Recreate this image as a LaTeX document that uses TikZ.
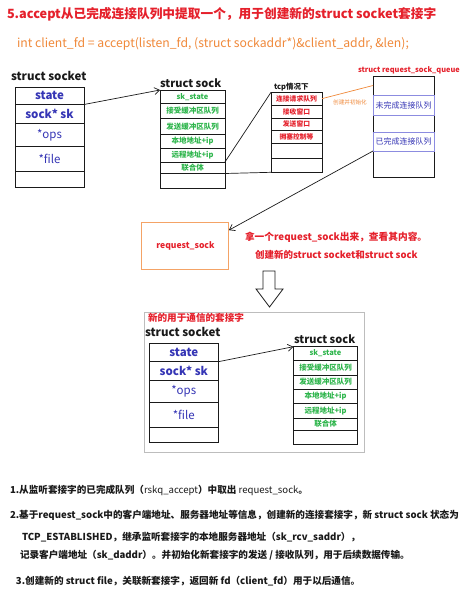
\documentclass[tikz,border=0pt]{standalone}
\usepackage{fontspec}
\setmainfont{Noto Sans CJK SC}
\usetikzlibrary{arrows.meta,calc}
\definecolor{TitleRed}{HTML}{E5202B}
\definecolor{CodeOrange}{HTML}{F0893A}
\definecolor{FieldBlue}{HTML}{3535B5}
\definecolor{FieldGreen}{HTML}{2DB54B}
\definecolor{BoxOrange}{HTML}{F4A366}
\definecolor{QueueEdge}{HTML}{8C8CE0}
\definecolor{FrameGray}{HTML}{BDBDBD}
\definecolor{Ink}{HTML}{1A1A1A}

\begin{document}
\begin{tikzpicture}[x=1pt,y=-1pt,>={Straight Barb[length=5pt,width=7pt]},
  every node/.style={inner sep=0pt,outer sep=0pt},
  cell/.style={draw=Ink,line width=0.9pt,minimum width=#1},
  sockfield/.style={text=FieldBlue,font=\fontsize{11.5}{12}\selectfont},
  skfield/.style={text=FieldGreen,font=\fontsize{7.5}{8}\selectfont\bfseries},
  tcpfield/.style={text=TitleRed,font=\fontsize{6.8}{7}\selectfont\bfseries},
  qfield/.style={text=FieldBlue,font=\fontsize{8}{9}\selectfont},
  caption/.style={anchor=west,text=Ink,font=\fontsize{11.5}{12}\selectfont\bfseries},
  note/.style={anchor=west,text=Ink,font=\fontsize{9.6}{10}\selectfont\bfseries}]
      \useasboundingbox[fill=white] (0,0) rectangle (474,596);

      % title and call
      \node[anchor=west,text=TitleRed,font=\fontsize{12.7}{13}\selectfont\bfseries] (title) at (7,14)
        {5.accept从已完成连接队列中提取一个，用于创建新的struct socket套接字};
      \node[anchor=west,text=CodeOrange,font=\fontsize{12.2}{13}\selectfont] (call) at (17,44)
        {int client\_fd = accept(listen\_fd, (struct sockaddr*)\&client\_addr, \&len);};

      % listening struct socket
      \node[caption] (oldsocklbl) at (11,76) {struct socket};
      \node[cell=69pt,minimum height=17.5pt,sockfield,font=\fontsize{11.5}{12}\selectfont\bfseries] (os1) at (49.5,95.75) {state};
      \node[cell=69pt,minimum height=19pt,sockfield,font=\fontsize{11.5}{12}\selectfont\bfseries] (os2) at (49.5,114) {sock* sk};
      \node[cell=69pt,minimum height=22.5pt,sockfield] (os3) at (49.5,134.75) {*ops};
      \node[cell=69pt,minimum height=25pt,sockfield] (os4) at (49.5,158.5) {*file};
      \node[cell=69pt,minimum height=16pt] (os5) at (49.5,179) {};

      % listening struct sock
      \node[caption,font=\fontsize{11}{12}\selectfont\bfseries] (oldsklbl) at (160,83) {struct sock};
      \node[cell=65pt,minimum height=13.5pt,skfield] (ok1) at (192.5,96.75) {sk\_state};
      \node[cell=65pt,minimum height=15pt,skfield] (ok2) at (192.5,111) {接受缓冲区队列};
      \node[cell=65pt,minimum height=15.5pt,skfield] (ok3) at (192.5,126.25) {发送缓冲区队列};
      \node[cell=65pt,minimum height=14pt,skfield] (ok4) at (192.5,141) {本地地址+ip};
      \node[cell=65pt,minimum height=14pt,skfield] (ok5) at (192.5,155) {远程地址+ip};
      \node[cell=65pt,minimum height=11.5pt,skfield] (ok6) at (192.5,167.75) {联合体};
      \node[cell=65pt,minimum height=14.5pt] (ok7) at (192.5,180.75) {};

      % tcp part of the union
      \node[anchor=west,text=Ink,font=\fontsize{7.5}{8}\selectfont\bfseries] (tcplbl) at (274,87) {tcp情况下};
      \node[cell=51pt,minimum height=12.7pt,tcpfield] (t1) at (296.5,98.65) {连接请求队列};
      \node[cell=51pt,minimum height=13pt,tcpfield] (t2) at (296.5,111.5) {接收窗口};
      \node[cell=51pt,minimum height=12pt,tcpfield] (t3) at (296.5,124) {发送窗口};
      \node[cell=51pt,minimum height=13.3pt,tcpfield] (t4) at (296.5,136.65) {拥塞控制等};
      \node[cell=51pt,minimum height=15pt] (t5) at (296.5,150.8) {};
      \node[cell=51pt,minimum height=14pt] (t6) at (296.5,165.3) {};

      % request_sock_queue
      \node[anchor=west,text=TitleRed,font=\fontsize{7.4}{8}\selectfont\bfseries] (queuelbl) at (358,70) {struct request\_sock\_queue};
      \node[cell=61pt,minimum height=19pt] (q1) at (403.5,85.5) {};
      \node[cell=61pt,minimum height=17pt] (q3) at (403.5,123.5) {};
      \node[cell=61pt,minimum height=26pt] (q5) at (403.5,164) {};
      \node[cell=61pt,minimum height=20pt,draw=QueueEdge,qfield] (q2) at (403.5,105) {未完成连接队列};
      \node[cell=61pt,minimum height=19pt,draw=QueueEdge,qfield] (q4) at (403.5,141.5) {已完成连接队列};

      % taken request_sock
      \node[draw=BoxOrange,line width=1pt,minimum width=87pt,minimum height=46.5pt,
        text=TitleRed,font=\fontsize{8.6}{9}\selectfont\bfseries] (rs) at (185.4,246) {request\_sock};
      \node[anchor=west,text=TitleRed,font=\fontsize{9.7}{10}\selectfont\bfseries] (takeA) at (245,237)
        {拿一个request\_sock出来，查看其内容。};
      \node[anchor=west,text=TitleRed,font=\fontsize{9.5}{10}\selectfont\bfseries] (takeB) at (255,255)
        {创建新的struct socket和struct sock};

      % links
      \draw[->,Ink,line width=0.7pt] (os2.north east) -- (ok1.north west);
      \draw[Ink,line width=0.7pt] (ok5.south east) -- (t1.north west);
      \draw[Ink,line width=0.7pt] (ok6.south east) -- (t6.south west);
      \draw[CodeOrange,line width=0.7pt] (t1.east) -- (q1.west);
      \node[text=CodeOrange,font=\fontsize{5.6}{6}\selectfont] (initlbl) at (350,102) {创建并初始化};
      \draw[->,Ink,line width=0.7pt] (q4.south west) -- (rs.20);

      % hollow arrow down
      \draw[Ink,line width=0.8pt,fill=white] (263,271) -- (275,271) -- (275,289) -- (283,289)
        -- (269.5,307) -- (256,289) -- (263,289) -- cycle;

      % new socket for communication
      \node[draw=FrameGray,line width=0.9pt,minimum width=220pt,minimum height=140.5pt] (frame) at (254,382.5) {};
      \node[anchor=west,text=TitleRed,font=\fontsize{9.6}{10}\selectfont\bfseries] (newlbl) at (148,318) {新的用于通信的套接字};
      \node[caption] (newsocklbl) at (145,332) {struct socket};
      \node[cell=69pt,minimum height=18.4pt,sockfield,font=\fontsize{11.5}{12}\selectfont\bfseries] (ns1) at (183.8,352.5) {state};
      \node[cell=69pt,minimum height=18.3pt,sockfield,font=\fontsize{11.5}{12}\selectfont\bfseries] (ns2) at (183.8,370.85) {sock* sk};
      \node[cell=69pt,minimum height=22.7pt,sockfield] (ns3) at (183.8,391.35) {*ops};
      \node[cell=69pt,minimum height=25pt,sockfield] (ns4) at (183.8,415.2) {*file};
      \node[cell=69pt,minimum height=15pt] (ns5) at (183.8,435.2) {};

      \node[caption,font=\fontsize{11}{12}\selectfont\bfseries] (newsklbl) at (294,339) {struct sock};
      \node[cell=64.4pt,minimum height=13.3pt,skfield] (nk1) at (325.5,353.35) {sk\_state};
      \node[cell=64.4pt,minimum height=15pt,skfield] (nk2) at (325.5,367.5) {接受缓冲区队列};
      \node[cell=64.4pt,minimum height=14pt,skfield] (nk3) at (325.5,382) {发送缓冲区队列};
      \node[cell=64.4pt,minimum height=14.3pt,skfield] (nk4) at (325.5,396.15) {本地地址+ip};
      \node[cell=64.4pt,minimum height=15pt,skfield] (nk5) at (325.5,410.8) {远程地址+ip};
      \node[cell=64.4pt,minimum height=11.7pt,skfield] (nk6) at (325.5,424.15) {联合体};
      \node[cell=64.4pt,minimum height=14.3pt] (nk7) at (325.5,437.15) {};
      \draw[->,Ink,line width=0.7pt] (ns2.north east) -- (nk1.north west);

      % steps
      \node[note] (step1) at (10,490) {1.从监听套接字的已完成队列（{\mdseries rskq\_accept}）中取出 {\mdseries request\_sock}。};
      \node[note] (step2) at (10,515.7) {2.基于request\_sock中的客户端地址、服务器地址等信息，创建新的连接套接字，新 struct sock 状态为};
      \node[note] (step2b) at (22,536.7) {TCP\_ESTABLISHED，继承监听套接字的本地服务器地址（sk\_rcv\_saddr），};
      \node[note] (step2c) at (20,555) {记录客户端地址（sk\_daddr）。并初始化新套接字的发送 / 接收队列，用于后续数据传输。};
      \node[note] (step3) at (16,580.7) {3.创建新的 struct file，关联新套接字，返回新 fd（client\_fd）用于以后通信。};
\end{tikzpicture}
\end{document}
